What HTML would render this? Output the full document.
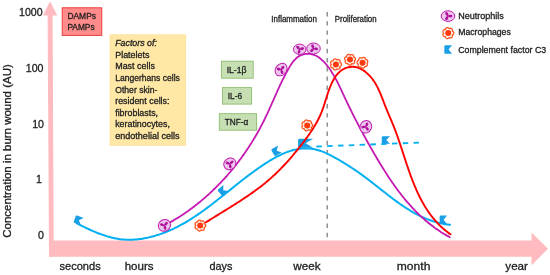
<!DOCTYPE html>
<html><head><meta charset="utf-8"><title>Burn wound healing timeline</title>
<style>html,body{margin:0;padding:0;background:#fff;width:550px;height:275px;overflow:hidden}svg{display:block;filter:blur(0.25px)}</style>
</head><body>
<svg width="550" height="275" viewBox="0 0 550 275">
<rect width="550" height="275" fill="#fff"/>
<path d="M50,1.3 L57.3,15.6 L52.6,15.6 L53.8,256.8 L49,256.8 L47.6,15.6 L43,15.6 Z" fill="#ffbbbf"/>
<path d="M49,240.4 L531.5,240.4 L531.5,232.4 L548,248.8 L531.5,265.3 L531.5,256.8 L49,256.8 Z" fill="#ffbbbf"/>
<line x1="327.2" y1="12" x2="327.2" y2="238.5" stroke="#7f7f7f" stroke-width="1.3" stroke-dasharray="4.4 4.8"/>
<rect x="62.2" y="7.8" width="39.6" height="27.6" fill="#ff8b8b" stroke="#ec3030" stroke-width="0.9"/>
<text x="67.40" y="18.90" textLength="28.60" lengthAdjust="spacingAndGlyphs" style="font-family:'Liberation Sans',Arial,sans-serif;font-size:8.60px;" fill="#222" stroke="#222" stroke-width="0.30" >DAMPs</text>
<text x="67.40" y="30.30" textLength="27.20" lengthAdjust="spacingAndGlyphs" style="font-family:'Liberation Sans',Arial,sans-serif;font-size:8.60px;" fill="#222" stroke="#222" stroke-width="0.30" >PAMPs</text>
<rect x="110" y="34.8" width="75.8" height="110.6" fill="#ffe8a6" stroke="#fbdc8a" stroke-width="0.6"/>
<text x="115.20" y="46.10" textLength="41.70" lengthAdjust="spacingAndGlyphs" style="font-family:'Liberation Sans',Arial,sans-serif;font-size:8.60px;font-style:italic;" fill="#222" stroke="#222" stroke-width="0.30" >Factors of:</text>
<text x="115.20" y="57.70" textLength="34.30" lengthAdjust="spacingAndGlyphs" style="font-family:'Liberation Sans',Arial,sans-serif;font-size:8.60px;" fill="#222" stroke="#222" stroke-width="0.30" >Platelets</text>
<text x="115.20" y="69.30" textLength="39.70" lengthAdjust="spacingAndGlyphs" style="font-family:'Liberation Sans',Arial,sans-serif;font-size:8.60px;" fill="#222" stroke="#222" stroke-width="0.30" >Mast cells</text>
<text x="115.20" y="80.90" textLength="64.70" lengthAdjust="spacingAndGlyphs" style="font-family:'Liberation Sans',Arial,sans-serif;font-size:8.60px;" fill="#222" stroke="#222" stroke-width="0.30" >Langerhans cells</text>
<text x="115.20" y="92.50" textLength="42.20" lengthAdjust="spacingAndGlyphs" style="font-family:'Liberation Sans',Arial,sans-serif;font-size:8.60px;" fill="#222" stroke="#222" stroke-width="0.30" >Other skin-</text>
<text x="115.20" y="104.10" textLength="54.30" lengthAdjust="spacingAndGlyphs" style="font-family:'Liberation Sans',Arial,sans-serif;font-size:8.60px;" fill="#222" stroke="#222" stroke-width="0.30" >resident cells:</text>
<text x="115.20" y="115.70" textLength="42.90" lengthAdjust="spacingAndGlyphs" style="font-family:'Liberation Sans',Arial,sans-serif;font-size:8.60px;" fill="#222" stroke="#222" stroke-width="0.30" >fibroblasts,</text>
<text x="115.20" y="127.30" textLength="54.70" lengthAdjust="spacingAndGlyphs" style="font-family:'Liberation Sans',Arial,sans-serif;font-size:8.60px;" fill="#222" stroke="#222" stroke-width="0.30" >keratinocytes,</text>
<text x="115.20" y="138.90" textLength="64.40" lengthAdjust="spacingAndGlyphs" style="font-family:'Liberation Sans',Arial,sans-serif;font-size:8.60px;" fill="#222" stroke="#222" stroke-width="0.30" >endothelial cells</text>
<rect x="221.4" y="61.2" width="31.8" height="17.0" fill="#c6e0b4" stroke="#8cbd6e" stroke-width="0.9"/>
<text x="226.70" y="73.00" textLength="19.80" lengthAdjust="spacingAndGlyphs" style="font-family:'Liberation Sans',Arial,sans-serif;font-size:8.60px;" fill="#222" stroke="#222" stroke-width="0.30" >IL-1β</text>
<rect x="222.5" y="87.6" width="29.1" height="16.5" fill="#c6e0b4" stroke="#8cbd6e" stroke-width="0.9"/>
<text x="227.80" y="98.80" textLength="14.30" lengthAdjust="spacingAndGlyphs" style="font-family:'Liberation Sans',Arial,sans-serif;font-size:8.60px;" fill="#222" stroke="#222" stroke-width="0.30" >IL-6</text>
<rect x="219.3" y="113.7" width="37.3" height="16.5" fill="#c6e0b4" stroke="#8cbd6e" stroke-width="0.9"/>
<text x="224.70" y="124.90" textLength="23.50" lengthAdjust="spacingAndGlyphs" style="font-family:'Liberation Sans',Arial,sans-serif;font-size:8.60px;" fill="#222" stroke="#222" stroke-width="0.30" >TNF-α</text>
<text x="42.60" y="16.10" text-anchor="end" style="font-family:'Liberation Sans',Arial,sans-serif;font-size:10.60px;" fill="#222" stroke="#222" stroke-width="0.30" >1000</text>
<text x="43.50" y="71.60" text-anchor="end" style="font-family:'Liberation Sans',Arial,sans-serif;font-size:10.60px;" fill="#222" stroke="#222" stroke-width="0.30" >100</text>
<text x="44.00" y="127.80" text-anchor="end" style="font-family:'Liberation Sans',Arial,sans-serif;font-size:10.60px;" fill="#222" stroke="#222" stroke-width="0.30" >10</text>
<text x="41.90" y="183.10" text-anchor="end" style="font-family:'Liberation Sans',Arial,sans-serif;font-size:10.60px;" fill="#222" stroke="#222" stroke-width="0.30" >1</text>
<text x="43.90" y="238.50" text-anchor="end" style="font-family:'Liberation Sans',Arial,sans-serif;font-size:10.60px;" fill="#222" stroke="#222" stroke-width="0.30" >0</text>
<text transform="translate(10.8,151) rotate(-90)" text-anchor="middle" style="font-family:'Liberation Sans',Arial,sans-serif;font-size:10.4px" fill="#222" stroke="#222" stroke-width="0.30" textLength="173.5" lengthAdjust="spacingAndGlyphs">Concentration in burn wound (AU)</text>
<text x="59.50" y="270.40" textLength="41.20" lengthAdjust="spacingAndGlyphs" style="font-family:'Liberation Sans',Arial,sans-serif;font-size:11.30px;" fill="#222" stroke="#222" stroke-width="0.30" >seconds</text>
<text x="124.70" y="270.40" textLength="28.90" lengthAdjust="spacingAndGlyphs" style="font-family:'Liberation Sans',Arial,sans-serif;font-size:11.30px;" fill="#222" stroke="#222" stroke-width="0.30" >hours</text>
<text x="209.40" y="270.40" textLength="23.00" lengthAdjust="spacingAndGlyphs" style="font-family:'Liberation Sans',Arial,sans-serif;font-size:11.30px;" fill="#222" stroke="#222" stroke-width="0.30" >days</text>
<text x="293.30" y="270.40" textLength="27.20" lengthAdjust="spacingAndGlyphs" style="font-family:'Liberation Sans',Arial,sans-serif;font-size:11.30px;" fill="#222" stroke="#222" stroke-width="0.30" >week</text>
<text x="396.80" y="270.40" textLength="33.60" lengthAdjust="spacingAndGlyphs" style="font-family:'Liberation Sans',Arial,sans-serif;font-size:11.30px;" fill="#222" stroke="#222" stroke-width="0.30" >month</text>
<text x="505.30" y="270.40" textLength="22.70" lengthAdjust="spacingAndGlyphs" style="font-family:'Liberation Sans',Arial,sans-serif;font-size:11.30px;" fill="#222" stroke="#222" stroke-width="0.30" >year</text>
<text x="271.30" y="22.30" textLength="45.60" lengthAdjust="spacingAndGlyphs" style="font-family:'Liberation Sans',Arial,sans-serif;font-size:8.40px;" fill="#222" stroke="#222" stroke-width="0.30" >Inflammation</text>
<text x="334.80" y="22.30" textLength="41.80" lengthAdjust="spacingAndGlyphs" style="font-family:'Liberation Sans',Arial,sans-serif;font-size:8.40px;" fill="#222" stroke="#222" stroke-width="0.30" >Proliferation</text>
<g transform="translate(448.00,16.10) rotate(0.0)"><ellipse rx="6.80" ry="5.30" fill="#ecc6ec" stroke="#c21cae" stroke-width="1"/><g transform="rotate(90.0)" fill="#b0109c"><ellipse cx="0" cy="-2.5" rx="1.35" ry="2.0" transform="rotate(0)"/><ellipse cx="0" cy="-2.5" rx="1.35" ry="2.0" transform="rotate(120)"/><ellipse cx="0" cy="-2.5" rx="1.35" ry="2.0" transform="rotate(240)"/><circle r="1"/></g></g>
<g transform="translate(448.20,33.10)"><path d="M5.60,0.00 L5.59,0.17 L5.57,0.33 L5.53,0.50 L5.47,0.66 L5.40,0.81 L5.32,0.97 L5.23,1.11 L5.12,1.25 L5.00,1.38 L4.87,1.50 L4.74,1.62 L4.60,1.72 L4.45,1.82 L4.30,1.91 L4.14,2.00 L4.18,2.17 L4.20,2.34 L4.21,2.52 L4.22,2.70 L4.21,2.87 L4.20,3.05 L4.17,3.22 L4.13,3.39 L4.07,3.56 L4.01,3.72 L3.93,3.87 L3.84,4.01 L3.73,4.15 L3.62,4.27 L3.49,4.38 L3.36,4.48 L3.21,4.56 L3.06,4.63 L2.90,4.69 L2.73,4.73 L2.56,4.76 L2.39,4.78 L2.21,4.78 L2.04,4.77 L1.86,4.75 L1.69,4.71 L1.52,4.67 L1.35,4.61 L1.18,4.55 L1.02,4.48 L0.91,4.62 L0.79,4.74 L0.66,4.86 L0.52,4.98 L0.38,5.09 L0.23,5.18 L0.08,5.27 L-0.08,5.34 L-0.24,5.40 L-0.41,5.45 L-0.58,5.48 L-0.75,5.50 L-0.91,5.50 L-1.08,5.49 L-1.25,5.46 L-1.41,5.41 L-1.56,5.35 L-1.72,5.28 L-1.86,5.19 L-2.00,5.09 L-2.13,4.97 L-2.25,4.85 L-2.36,4.71 L-2.46,4.57 L-2.55,4.42 L-2.63,4.26 L-2.70,4.10 L-2.77,3.93 L-2.82,3.76 L-2.87,3.60 L-3.04,3.59 L-3.22,3.57 L-3.39,3.55 L-3.57,3.51 L-3.74,3.47 L-3.91,3.41 L-4.07,3.35 L-4.23,3.27 L-4.38,3.18 L-4.52,3.08 L-4.65,2.97 L-4.77,2.85 L-4.87,2.72 L-4.97,2.58 L-5.05,2.43 L-5.11,2.28 L-5.16,2.12 L-5.20,1.95 L-5.22,1.78 L-5.22,1.61 L-5.21,1.44 L-5.19,1.27 L-5.15,1.10 L-5.10,0.93 L-5.04,0.76 L-4.97,0.60 L-4.89,0.44 L-4.80,0.29 L-4.70,0.14 L-4.60,0.00 L-4.70,-0.14 L-4.80,-0.29 L-4.89,-0.44 L-4.97,-0.60 L-5.04,-0.76 L-5.10,-0.93 L-5.15,-1.10 L-5.19,-1.27 L-5.21,-1.44 L-5.22,-1.61 L-5.22,-1.78 L-5.20,-1.95 L-5.16,-2.12 L-5.11,-2.28 L-5.05,-2.43 L-4.97,-2.58 L-4.87,-2.72 L-4.77,-2.85 L-4.65,-2.97 L-4.52,-3.08 L-4.38,-3.18 L-4.23,-3.27 L-4.07,-3.35 L-3.91,-3.41 L-3.74,-3.47 L-3.57,-3.51 L-3.39,-3.55 L-3.22,-3.57 L-3.04,-3.59 L-2.87,-3.60 L-2.82,-3.76 L-2.77,-3.93 L-2.70,-4.10 L-2.63,-4.26 L-2.55,-4.42 L-2.46,-4.57 L-2.36,-4.71 L-2.25,-4.85 L-2.13,-4.97 L-2.00,-5.09 L-1.86,-5.19 L-1.72,-5.28 L-1.56,-5.35 L-1.41,-5.41 L-1.25,-5.46 L-1.08,-5.49 L-0.91,-5.50 L-0.75,-5.50 L-0.58,-5.48 L-0.41,-5.45 L-0.24,-5.40 L-0.08,-5.34 L0.08,-5.27 L0.23,-5.18 L0.38,-5.09 L0.52,-4.98 L0.66,-4.86 L0.79,-4.74 L0.91,-4.62 L1.02,-4.48 L1.18,-4.55 L1.35,-4.61 L1.52,-4.67 L1.69,-4.71 L1.86,-4.75 L2.04,-4.77 L2.21,-4.78 L2.39,-4.78 L2.56,-4.76 L2.73,-4.73 L2.90,-4.69 L3.06,-4.63 L3.21,-4.56 L3.36,-4.48 L3.49,-4.38 L3.62,-4.27 L3.73,-4.15 L3.84,-4.01 L3.93,-3.87 L4.01,-3.72 L4.07,-3.56 L4.13,-3.39 L4.17,-3.22 L4.20,-3.05 L4.21,-2.87 L4.22,-2.70 L4.21,-2.52 L4.20,-2.34 L4.18,-2.17 L4.14,-2.00 L4.30,-1.91 L4.45,-1.82 L4.60,-1.72 L4.74,-1.62 L4.87,-1.50 L5.00,-1.38 L5.12,-1.25 L5.23,-1.11 L5.32,-0.97 L5.40,-0.81 L5.47,-0.66 L5.53,-0.50 L5.57,-0.33 L5.59,-0.17Z" fill="#fff6f0" stroke="#ff5420" stroke-width="1.3" stroke-linejoin="round"/><circle cx="0.00" cy="0.00" r="3.00" fill="#ff3a0a"/></g>
<path transform="translate(448.20,49.60) rotate(0.0)" d="M-2.65,-4.25 L3.85,-4.25 L0.38,0 L3.85,4.25 L-2.65,4.25 Q-3.85,4.25 -3.85,3.05 L-3.85,-3.05 Q-3.85,-4.25 -2.65,-4.25 Z" fill="#1a9fe6"/>
<text x="458.20" y="19.40" textLength="45.60" lengthAdjust="spacingAndGlyphs" style="font-family:'Liberation Sans',Arial,sans-serif;font-size:8.80px;" fill="#222" stroke="#222" stroke-width="0.30" >Neutrophils</text>
<text x="458.20" y="35.10" textLength="52.60" lengthAdjust="spacingAndGlyphs" style="font-family:'Liberation Sans',Arial,sans-serif;font-size:8.80px;" fill="#222" stroke="#222" stroke-width="0.30" >Macrophages</text>
<text x="458.20" y="53.00" textLength="88.00" lengthAdjust="spacingAndGlyphs" style="font-family:'Liberation Sans',Arial,sans-serif;font-size:8.80px;" fill="#222" stroke="#222" stroke-width="0.30" >Complement factor C3</text>
<path d="M76.96,223.46 C77.24,223.61 78.10,224.04 78.68,224.33 C79.25,224.62 79.83,224.91 80.42,225.20 C81.00,225.49 81.59,225.78 82.18,226.07 C82.77,226.36 83.36,226.65 83.96,226.94 C84.55,227.23 85.15,227.51 85.76,227.80 C86.36,228.09 86.96,228.37 87.57,228.66 C88.18,228.94 88.79,229.22 89.41,229.50 C90.02,229.78 90.64,230.06 91.26,230.33 C91.88,230.60 92.50,230.88 93.12,231.14 C93.75,231.41 94.37,231.68 95.00,231.94 C95.63,232.20 96.26,232.46 96.90,232.71 C97.53,232.96 98.17,233.21 98.81,233.45 C99.44,233.70 100.08,233.94 100.73,234.17 C101.37,234.41 102.01,234.64 102.66,234.86 C103.30,235.08 103.95,235.30 104.60,235.51 C105.25,235.72 105.90,235.93 106.55,236.13 C107.20,236.33 107.86,236.52 108.51,236.71 C109.17,236.89 109.82,237.07 110.48,237.24 C111.14,237.41 111.80,237.57 112.46,237.73 C113.12,237.88 113.78,238.03 114.44,238.17 C115.11,238.31 115.77,238.44 116.43,238.56 C117.10,238.68 117.76,238.79 118.43,238.89 C119.10,238.99 119.76,239.09 120.43,239.17 C121.10,239.25 121.76,239.33 122.43,239.39 C123.10,239.45 123.77,239.51 124.44,239.55 C125.11,239.60 125.78,239.63 126.45,239.66 C127.12,239.68 127.79,239.70 128.46,239.71 C129.13,239.72 129.80,239.72 130.47,239.71 C131.14,239.70 131.81,239.68 132.48,239.65 C133.15,239.63 133.82,239.59 134.49,239.55 C135.16,239.50 135.83,239.45 136.49,239.39 C137.16,239.33 137.83,239.26 138.50,239.19 C139.17,239.11 139.83,239.03 140.50,238.94 C141.17,238.85 141.83,238.75 142.50,238.64 C143.16,238.54 143.83,238.42 144.49,238.30 C145.15,238.18 145.82,238.05 146.48,237.92 C147.14,237.79 147.80,237.64 148.46,237.50 C149.12,237.35 149.77,237.19 150.43,237.03 C151.09,236.87 151.74,236.70 152.39,236.53 C153.05,236.35 153.70,236.17 154.35,235.99 C155.00,235.80 155.65,235.61 156.30,235.41 C156.94,235.21 157.59,235.01 158.23,234.80 C158.88,234.59 159.52,234.37 160.16,234.15 C160.80,233.93 161.43,233.71 162.07,233.48 C162.70,233.24 163.34,233.01 163.97,232.77 C164.60,232.53 165.23,232.28 165.86,232.03 C166.48,231.78 167.11,231.52 167.73,231.26 C168.35,231.00 168.97,230.74 169.59,230.47 C170.20,230.20 170.82,229.93 171.43,229.65 C172.04,229.38 172.65,229.10 173.25,228.81 C173.86,228.53 174.46,228.24 175.06,227.94 C175.66,227.65 176.26,227.35 176.86,227.05 C177.45,226.75 178.05,226.45 178.64,226.14 C179.23,225.83 179.82,225.52 180.41,225.21 C180.99,224.89 181.58,224.57 182.16,224.25 C182.74,223.93 183.32,223.60 183.90,223.28 C184.48,222.95 185.06,222.62 185.63,222.28 C186.20,221.95 186.78,221.61 187.35,221.27 C187.92,220.92 188.49,220.58 189.05,220.23 C189.62,219.88 190.18,219.53 190.75,219.18 C191.31,218.83 191.87,218.47 192.43,218.11 C192.99,217.75 193.55,217.39 194.11,217.03 C194.66,216.66 195.22,216.30 195.77,215.93 C196.32,215.56 196.88,215.19 197.43,214.81 C197.98,214.44 198.53,214.06 199.08,213.68 C199.62,213.30 200.17,212.92 200.72,212.54 C201.26,212.16 201.80,211.77 202.35,211.38 C202.89,211.00 203.43,210.61 203.97,210.22 C204.51,209.82 205.05,209.43 205.59,209.04 C206.13,208.64 206.67,208.24 207.21,207.84 C207.74,207.45 208.28,207.05 208.81,206.64 C209.35,206.24 209.88,205.84 210.42,205.43 C210.95,205.03 211.48,204.62 212.01,204.21 C212.55,203.81 213.08,203.40 213.61,202.99 C214.14,202.57 214.67,202.16 215.20,201.75 C215.73,201.34 216.26,200.92 216.79,200.51 C217.32,200.09 217.85,199.68 218.37,199.26 C218.90,198.84 219.43,198.42 219.96,198.01 C220.48,197.59 221.01,197.17 221.54,196.75 C222.07,196.33 222.59,195.91 223.12,195.48 C223.65,195.06 224.17,194.64 224.70,194.22 C225.23,193.80 225.75,193.37 226.28,192.95 C226.81,192.53 227.33,192.10 227.86,191.68 C228.39,191.25 228.92,190.83 229.44,190.41 C229.97,189.98 230.50,189.56 231.03,189.13 C231.55,188.71 232.08,188.28 232.61,187.86 C233.14,187.44 233.67,187.01 234.20,186.59 C234.73,186.16 235.26,185.74 235.79,185.32 C236.32,184.89 236.85,184.47 237.38,184.05 C237.92,183.63 238.45,183.20 238.98,182.78 C239.52,182.36 240.05,181.94 240.58,181.52 C241.12,181.10 241.66,180.68 242.19,180.26 C242.73,179.84 243.27,179.42 243.80,179.01 C244.34,178.59 244.88,178.17 245.42,177.76 C245.96,177.34 246.51,176.93 247.05,176.52 C247.59,176.10 248.14,175.69 248.68,175.28 C249.23,174.87 249.77,174.46 250.32,174.05 C250.87,173.65 251.42,173.24 251.97,172.84 C252.52,172.43 253.07,172.03 253.62,171.62 C254.18,171.22 254.73,170.82 255.29,170.42 C255.84,170.02 256.40,169.63 256.96,169.23 C257.52,168.84 258.08,168.44 258.64,168.05 C259.21,167.66 259.77,167.27 260.34,166.88 C260.90,166.50 261.47,166.11 262.04,165.73 C262.61,165.35 263.18,164.96 263.76,164.59 C264.33,164.21 264.91,163.83 265.49,163.46 C266.06,163.08 266.64,162.71 267.22,162.35 C267.81,161.98 268.39,161.62 268.97,161.26 C269.56,160.90 270.14,160.54 270.73,160.19 C271.32,159.84 271.91,159.49 272.50,159.15 C273.09,158.81 273.69,158.47 274.28,158.14 C274.88,157.81 275.47,157.48 276.07,157.16 C276.67,156.84 277.27,156.53 277.87,156.22 C278.47,155.92 279.08,155.61 279.68,155.32 C280.28,155.03 280.89,154.74 281.50,154.46 C282.10,154.18 282.71,153.91 283.32,153.64 C283.93,153.38 284.54,153.12 285.16,152.87 C285.77,152.62 286.38,152.38 287.00,152.15 C287.61,151.92 288.23,151.70 288.85,151.49 C289.46,151.28 290.08,151.07 290.70,150.88 C291.32,150.69 291.94,150.50 292.57,150.33 C293.19,150.16 293.81,149.99 294.44,149.84 C295.06,149.69 295.69,149.55 296.31,149.42 C296.94,149.29 297.57,149.17 298.19,149.07 C298.82,148.96 299.45,148.87 300.08,148.79 C300.71,148.71 301.34,148.64 301.98,148.58 C302.61,148.52 303.24,148.48 303.88,148.45 C304.51,148.42 305.14,148.40 305.78,148.40 C306.41,148.40 307.05,148.41 307.69,148.43 C308.32,148.46 308.96,148.50 309.60,148.55 C310.24,148.61 310.88,148.68 311.52,148.76 C312.16,148.85 312.80,148.95 313.44,149.07 C314.08,149.18 314.72,149.31 315.36,149.46 C316.00,149.61 316.64,149.77 317.29,149.95 C317.93,150.13 318.57,150.32 319.21,150.53 C319.85,150.73 320.50,150.95 321.14,151.18 C321.78,151.41 322.42,151.65 323.06,151.91 C323.70,152.16 324.34,152.43 324.97,152.70 C325.61,152.97 326.25,153.26 326.88,153.55 C327.52,153.84 328.15,154.14 328.78,154.45 C329.41,154.75 330.04,155.07 330.67,155.39 C331.30,155.71 331.92,156.04 332.55,156.37 C333.17,156.70 333.79,157.04 334.41,157.38 C335.02,157.72 335.64,158.06 336.25,158.41 C336.86,158.76 337.47,159.11 338.08,159.46 C338.68,159.81 339.28,160.16 339.88,160.51 C340.48,160.87 341.07,161.22 341.66,161.57 C342.25,161.92 342.84,162.28 343.42,162.63 C344.01,162.98 344.59,163.34 345.16,163.69 C345.74,164.04 346.31,164.40 346.88,164.75 C347.46,165.11 348.02,165.46 348.59,165.82 C349.15,166.18 349.72,166.54 350.28,166.90 C350.84,167.26 351.39,167.62 351.95,167.98 C352.50,168.34 353.06,168.71 353.61,169.07 C354.16,169.44 354.71,169.81 355.26,170.18 C355.81,170.55 356.35,170.92 356.90,171.29 C357.44,171.67 357.99,172.05 358.53,172.42 C359.07,172.80 359.61,173.19 360.15,173.57 C360.69,173.96 361.23,174.34 361.77,174.73 C362.31,175.12 362.85,175.52 363.38,175.91 C363.92,176.31 364.46,176.71 364.99,177.11 C365.53,177.51 366.06,177.91 366.60,178.31 C367.13,178.72 367.67,179.12 368.20,179.53 C368.74,179.94 369.27,180.35 369.80,180.76 C370.33,181.17 370.87,181.58 371.40,181.99 C371.93,182.41 372.46,182.82 373.00,183.24 C373.53,183.65 374.06,184.07 374.59,184.49 C375.12,184.90 375.65,185.32 376.19,185.74 C376.72,186.16 377.25,186.58 377.78,187.00 C378.31,187.42 378.84,187.84 379.38,188.26 C379.91,188.68 380.44,189.10 380.97,189.52 C381.50,189.94 382.04,190.36 382.57,190.78 C383.10,191.20 383.64,191.62 384.17,192.04 C384.71,192.46 385.24,192.88 385.77,193.30 C386.31,193.71 386.85,194.13 387.38,194.55 C387.92,194.96 388.45,195.38 388.99,195.79 C389.53,196.20 390.07,196.62 390.61,197.03 C391.15,197.44 391.69,197.85 392.23,198.25 C392.77,198.66 393.31,199.07 393.85,199.47 C394.40,199.88 394.94,200.28 395.49,200.68 C396.03,201.08 396.58,201.48 397.12,201.87 C397.67,202.27 398.22,202.66 398.77,203.05 C399.32,203.44 399.87,203.83 400.42,204.21 C400.98,204.60 401.53,204.98 402.09,205.36 C402.64,205.74 403.20,206.12 403.76,206.49 C404.32,206.86 404.88,207.23 405.44,207.60 C406.00,207.96 406.56,208.33 407.13,208.68 C407.69,209.04 408.26,209.40 408.83,209.75 C409.40,210.10 409.97,210.45 410.54,210.79 C411.11,211.13 411.69,211.47 412.26,211.81 C412.84,212.14 413.42,212.47 414.00,212.80 C414.58,213.12 415.16,213.44 415.74,213.76 C416.33,214.07 416.92,214.38 417.51,214.69 C418.10,215.00 418.69,215.30 419.28,215.59 C419.87,215.89 420.47,216.18 421.07,216.46 C421.67,216.75 422.27,217.03 422.87,217.30 C423.48,217.57 424.08,217.84 424.69,218.10 C425.30,218.36 425.91,218.62 426.53,218.87 C427.14,219.12 427.76,219.36 428.38,219.60 C429.00,219.83 429.62,220.06 430.25,220.29 C430.87,220.51 431.50,220.73 432.14,220.94 C432.77,221.15 433.40,221.35 434.04,221.55 C434.68,221.74 435.32,221.93 435.96,222.11 C436.61,222.29 437.25,222.47 437.91,222.63 C438.56,222.80 439.21,222.96 439.87,223.11 C440.52,223.26 441.19,223.40 441.85,223.54 C442.51,223.67 443.18,223.80 443.85,223.92 C444.52,224.04 445.20,224.15 445.88,224.25 C446.56,224.35 447.24,224.45 447.92,224.53 C448.61,224.62 449.65,224.72 449.99,224.76" fill="none" stroke="#00b0f0" stroke-width="2" stroke-linecap="round"/>
<line x1="316.4" y1="146.5" x2="420.5" y2="142.6" stroke="#00b0f0" stroke-width="1.8" stroke-dasharray="5.5 5.3"/>
<path d="M170.18,222.34 C170.47,222.17 171.34,221.68 171.91,221.35 C172.49,221.02 173.06,220.68 173.64,220.34 C174.21,220.00 174.78,219.66 175.35,219.32 C175.92,218.97 176.48,218.63 177.05,218.28 C177.62,217.93 178.18,217.57 178.74,217.22 C179.31,216.86 179.87,216.50 180.43,216.14 C180.98,215.78 181.54,215.42 182.10,215.05 C182.65,214.68 183.21,214.31 183.76,213.94 C184.31,213.57 184.87,213.19 185.42,212.81 C185.96,212.44 186.51,212.06 187.06,211.67 C187.60,211.29 188.15,210.90 188.69,210.51 C189.23,210.12 189.77,209.73 190.31,209.34 C190.85,208.94 191.39,208.55 191.93,208.15 C192.46,207.75 193.00,207.35 193.53,206.94 C194.06,206.54 194.59,206.13 195.12,205.72 C195.65,205.31 196.18,204.90 196.70,204.48 C197.23,204.07 197.75,203.65 198.27,203.23 C198.79,202.81 199.31,202.39 199.83,201.96 C200.35,201.54 200.86,201.11 201.38,200.68 C201.89,200.25 202.41,199.82 202.92,199.39 C203.43,198.95 203.94,198.51 204.44,198.07 C204.95,197.64 205.46,197.19 205.96,196.75 C206.46,196.31 206.96,195.86 207.46,195.41 C207.96,194.96 208.46,194.51 208.96,194.06 C209.45,193.60 209.95,193.15 210.44,192.69 C210.93,192.23 211.42,191.77 211.91,191.31 C212.40,190.85 212.89,190.39 213.37,189.92 C213.86,189.45 214.34,188.98 214.82,188.51 C215.30,188.04 215.78,187.57 216.26,187.09 C216.73,186.62 217.21,186.14 217.68,185.66 C218.15,185.18 218.62,184.70 219.09,184.22 C219.56,183.73 220.03,183.25 220.49,182.76 C220.96,182.27 221.42,181.78 221.88,181.29 C222.35,180.80 222.80,180.31 223.26,179.81 C223.72,179.32 224.17,178.82 224.63,178.32 C225.08,177.82 225.53,177.32 225.98,176.81 C226.43,176.31 226.88,175.81 227.32,175.30 C227.77,174.79 228.21,174.28 228.65,173.77 C229.09,173.26 229.53,172.75 229.97,172.23 C230.40,171.72 230.84,171.20 231.27,170.69 C231.70,170.17 232.13,169.65 232.56,169.13 C232.99,168.60 233.42,168.08 233.84,167.56 C234.27,167.03 234.69,166.50 235.11,165.98 C235.53,165.45 235.95,164.92 236.36,164.38 C236.78,163.85 237.19,163.32 237.60,162.78 C238.01,162.25 238.42,161.71 238.83,161.17 C239.24,160.64 239.64,160.10 240.04,159.55 C240.45,159.01 240.85,158.47 241.25,157.93 C241.64,157.38 242.04,156.83 242.43,156.29 C242.83,155.74 243.22,155.19 243.61,154.64 C244.00,154.09 244.39,153.54 244.77,152.98 C245.16,152.43 245.54,151.87 245.92,151.32 C246.30,150.76 246.68,150.20 247.06,149.64 C247.43,149.08 247.81,148.52 248.18,147.96 C248.55,147.40 248.92,146.84 249.28,146.27 C249.65,145.71 250.02,145.14 250.38,144.57 C250.74,144.01 251.10,143.44 251.46,142.87 C251.82,142.30 252.17,141.73 252.53,141.15 C252.88,140.58 253.23,140.01 253.58,139.43 C253.93,138.86 254.27,138.28 254.62,137.71 C254.96,137.13 255.30,136.55 255.64,135.97 C255.98,135.39 256.32,134.81 256.65,134.23 C256.99,133.65 257.32,133.06 257.65,132.48 C257.98,131.90 258.31,131.31 258.63,130.73 C258.96,130.14 259.28,129.55 259.60,128.96 C259.92,128.38 260.24,127.79 260.55,127.20 C260.87,126.61 261.18,126.02 261.49,125.42 C261.80,124.83 262.11,124.24 262.42,123.64 C262.72,123.05 263.02,122.46 263.32,121.86 C263.63,121.26 263.92,120.67 264.22,120.07 C264.51,119.47 264.81,118.87 265.10,118.27 C265.39,117.68 265.68,117.08 265.96,116.47 C266.25,115.87 266.54,115.27 266.82,114.67 C267.10,114.07 267.38,113.46 267.66,112.86 C267.94,112.26 268.22,111.65 268.49,111.05 C268.77,110.44 269.04,109.84 269.32,109.23 C269.59,108.62 269.86,108.02 270.14,107.41 C270.41,106.80 270.68,106.20 270.95,105.59 C271.22,104.98 271.49,104.37 271.76,103.76 C272.03,103.15 272.30,102.54 272.57,101.93 C272.84,101.32 273.10,100.71 273.37,100.10 C273.64,99.49 273.91,98.88 274.18,98.27 C274.45,97.66 274.72,97.05 274.99,96.44 C275.26,95.82 275.53,95.21 275.80,94.60 C276.08,93.99 276.35,93.38 276.62,92.76 C276.90,92.15 277.17,91.54 277.45,90.93 C277.72,90.31 278.00,89.70 278.28,89.09 C278.56,88.48 278.84,87.86 279.12,87.25 C279.41,86.64 279.69,86.03 279.98,85.41 C280.26,84.80 280.55,84.19 280.84,83.58 C281.13,82.96 281.43,82.35 281.72,81.74 C282.02,81.13 282.32,80.52 282.62,79.91 C282.92,79.30 283.23,78.68 283.53,78.07 C283.84,77.46 284.15,76.85 284.46,76.24 C284.78,75.63 285.09,75.02 285.41,74.41 C285.74,73.80 286.06,73.19 286.39,72.59 C286.72,71.98 287.05,71.37 287.38,70.76 C287.72,70.15 288.06,69.55 288.40,68.94 C288.75,68.34 289.10,67.73 289.45,67.14 C289.81,66.54 290.17,65.95 290.54,65.37 C290.91,64.79 291.29,64.21 291.67,63.65 C292.06,63.09 292.46,62.54 292.87,62.01 C293.27,61.48 293.69,60.96 294.12,60.46 C294.55,59.97 294.99,59.49 295.45,59.03 C295.90,58.58 296.37,58.14 296.85,57.73 C297.34,57.33 297.83,56.94 298.35,56.59 C298.86,56.23 299.39,55.91 299.94,55.61 C300.49,55.32 301.05,55.06 301.64,54.83 C302.22,54.61 302.83,54.41 303.44,54.26 C304.06,54.10 304.69,53.98 305.33,53.90 C305.96,53.81 306.61,53.76 307.26,53.75 C307.91,53.73 308.56,53.75 309.21,53.80 C309.85,53.86 310.50,53.95 311.14,54.07 C311.77,54.20 312.40,54.36 313.02,54.55 C313.63,54.74 314.24,54.97 314.83,55.23 C315.43,55.48 316.01,55.77 316.59,56.08 C317.16,56.40 317.73,56.74 318.28,57.10 C318.83,57.47 319.38,57.86 319.91,58.27 C320.45,58.68 320.97,59.11 321.48,59.56 C322.00,60.01 322.50,60.48 322.99,60.97 C323.49,61.45 323.97,61.95 324.45,62.46 C324.92,62.97 325.38,63.49 325.84,64.03 C326.29,64.56 326.74,65.10 327.18,65.65 C327.61,66.20 328.04,66.75 328.45,67.31 C328.87,67.87 329.28,68.43 329.68,68.99 C330.07,69.56 330.46,70.13 330.85,70.70 C331.23,71.27 331.60,71.84 331.97,72.42 C332.33,72.99 332.69,73.57 333.04,74.15 C333.39,74.73 333.74,75.31 334.08,75.90 C334.42,76.48 334.75,77.07 335.08,77.66 C335.40,78.25 335.72,78.84 336.04,79.43 C336.36,80.03 336.67,80.62 336.98,81.22 C337.28,81.81 337.59,82.41 337.89,83.01 C338.19,83.61 338.48,84.21 338.78,84.81 C339.07,85.41 339.36,86.01 339.65,86.62 C339.94,87.22 340.22,87.82 340.51,88.43 C340.79,89.03 341.07,89.64 341.36,90.24 C341.64,90.85 341.92,91.45 342.20,92.06 C342.48,92.66 342.76,93.27 343.04,93.87 C343.32,94.48 343.60,95.08 343.88,95.69 C344.17,96.29 344.45,96.90 344.73,97.50 C345.02,98.11 345.30,98.71 345.59,99.32 C345.87,99.92 346.16,100.52 346.45,101.13 C346.73,101.73 347.02,102.33 347.31,102.93 C347.60,103.54 347.89,104.14 348.18,104.74 C348.47,105.34 348.77,105.94 349.06,106.54 C349.35,107.14 349.65,107.74 349.94,108.35 C350.24,108.95 350.53,109.55 350.83,110.15 C351.12,110.74 351.42,111.34 351.72,111.94 C352.02,112.54 352.32,113.14 352.62,113.74 C352.92,114.34 353.22,114.94 353.52,115.53 C353.82,116.13 354.13,116.73 354.43,117.33 C354.73,117.92 355.04,118.52 355.34,119.12 C355.65,119.71 355.96,120.31 356.26,120.90 C356.57,121.50 356.88,122.10 357.19,122.69 C357.50,123.29 357.81,123.88 358.12,124.47 C358.43,125.07 358.74,125.66 359.05,126.26 C359.37,126.85 359.68,127.44 359.99,128.04 C360.31,128.63 360.62,129.22 360.94,129.81 C361.25,130.41 361.57,131.00 361.89,131.59 C362.21,132.18 362.53,132.77 362.85,133.37 C363.16,133.96 363.48,134.55 363.81,135.14 C364.13,135.73 364.45,136.32 364.77,136.91 C365.09,137.50 365.42,138.09 365.74,138.68 C366.07,139.27 366.39,139.85 366.72,140.44 C367.05,141.03 367.37,141.62 367.70,142.21 C368.03,142.79 368.36,143.38 368.69,143.97 C369.02,144.56 369.35,145.14 369.68,145.73 C370.01,146.32 370.34,146.90 370.67,147.49 C371.01,148.07 371.34,148.66 371.68,149.24 C372.01,149.83 372.35,150.41 372.68,151.00 C373.02,151.58 373.36,152.17 373.69,152.75 C374.03,153.33 374.37,153.92 374.71,154.50 C375.05,155.08 375.39,155.67 375.73,156.25 C376.07,156.83 376.41,157.41 376.76,157.99 C377.10,158.58 377.44,159.16 377.79,159.74 C378.13,160.32 378.48,160.90 378.83,161.47 C379.17,162.05 379.52,162.63 379.87,163.21 C380.22,163.79 380.57,164.36 380.92,164.94 C381.28,165.52 381.63,166.09 381.98,166.67 C382.34,167.24 382.69,167.82 383.05,168.39 C383.41,168.96 383.76,169.53 384.12,170.10 C384.48,170.67 384.84,171.24 385.21,171.81 C385.57,172.38 385.93,172.95 386.30,173.52 C386.66,174.08 387.03,174.65 387.40,175.21 C387.76,175.78 388.13,176.34 388.50,176.90 C388.88,177.47 389.25,178.03 389.62,178.59 C390.00,179.14 390.37,179.70 390.75,180.26 C391.13,180.82 391.51,181.37 391.89,181.93 C392.27,182.48 392.65,183.03 393.04,183.58 C393.42,184.13 393.81,184.68 394.20,185.23 C394.59,185.78 394.98,186.33 395.37,186.87 C395.76,187.41 396.16,187.96 396.55,188.50 C396.95,189.04 397.35,189.58 397.75,190.12 C398.15,190.66 398.55,191.19 398.95,191.73 C399.36,192.26 399.76,192.79 400.17,193.32 C400.58,193.85 400.99,194.38 401.40,194.91 C401.82,195.43 402.23,195.96 402.65,196.48 C403.07,197.00 403.49,197.52 403.91,198.04 C404.33,198.56 404.75,199.08 405.18,199.59 C405.61,200.10 406.04,200.62 406.47,201.12 C406.90,201.63 407.33,202.14 407.77,202.65 C408.21,203.15 408.64,203.65 409.09,204.15 C409.53,204.65 409.97,205.15 410.42,205.65 C410.86,206.14 411.31,206.64 411.76,207.13 C412.22,207.62 412.67,208.10 413.13,208.59 C413.59,209.07 414.05,209.56 414.51,210.04 C414.97,210.52 415.44,210.99 415.90,211.47 C416.37,211.94 416.84,212.42 417.32,212.88 C417.79,213.35 418.27,213.82 418.75,214.28 C419.23,214.75 419.71,215.21 420.20,215.66 C420.68,216.12 421.17,216.58 421.66,217.03 C422.15,217.48 422.65,217.93 423.15,218.37 C423.65,218.82 424.15,219.26 424.65,219.70 C425.15,220.14 425.66,220.58 426.17,221.01 C426.68,221.44 427.20,221.87 427.71,222.30 C428.23,222.73 428.75,223.15 429.28,223.57 C429.80,223.99 430.33,224.41 430.86,224.82 C431.39,225.23 431.92,225.64 432.46,226.05 C433.00,226.46 433.54,226.86 434.08,227.26 C434.63,227.66 435.17,228.05 435.72,228.45 C436.28,228.84 436.83,229.23 437.39,229.61 C437.95,230.00 438.51,230.38 439.08,230.76 C439.64,231.13 440.21,231.51 440.78,231.88 C441.36,232.25 441.94,232.62 442.52,232.98 C443.10,233.34 443.68,233.70 444.27,234.05 C444.86,234.41 445.45,234.76 446.05,235.11 C446.64,235.45 447.24,235.79 447.85,236.13 C448.45,236.47 449.37,236.97 449.67,237.14" fill="none" stroke="#c41ab2" stroke-width="1.8" stroke-linecap="round"/>
<path transform="translate(78.50,220.20) rotate(20.0)" d="M-2.80,-3.90 L4.00,-3.90 L0.40,0 L4.00,3.90 L-2.80,3.90 Q-4.00,3.90 -4.00,2.70 L-4.00,-2.70 Q-4.00,-3.90 -2.80,-3.90 Z" fill="#1a9fe6"/>
<path transform="translate(222.90,190.50) rotate(-40.0)" d="M-2.80,-3.90 L4.00,-3.90 L0.40,0 L4.00,3.90 L-2.80,3.90 Q-4.00,3.90 -4.00,2.70 L-4.00,-2.70 Q-4.00,-3.90 -2.80,-3.90 Z" fill="#1a9fe6"/>
<path transform="translate(276.40,151.00) rotate(-30.0)" d="M-2.80,-3.90 L4.00,-3.90 L0.40,0 L4.00,3.90 L-2.80,3.90 Q-4.00,3.90 -4.00,2.70 L-4.00,-2.70 Q-4.00,-3.90 -2.80,-3.90 Z" fill="#1a9fe6"/>
<path transform="translate(305.60,143.30) rotate(0.0)" d="M-6.30,-4.50 L7.50,-4.50 L0.00,0 L7.50,4.50 L-6.30,4.50 Q-7.50,4.50 -7.50,3.30 L-7.50,-3.30 Q-7.50,-4.50 -6.30,-4.50 Z" fill="#1a9fe6"/>
<path transform="translate(385.90,140.00) rotate(0.0)" d="M-2.95,-3.80 L4.15,-3.80 L0.42,0 L4.15,3.80 L-2.95,3.80 Q-4.15,3.80 -4.15,2.60 L-4.15,-2.60 Q-4.15,-3.80 -2.95,-3.80 Z" fill="#1a9fe6"/>
<path transform="translate(443.30,219.70) rotate(0.0)" d="M-2.45,-4.20 L3.65,-4.20 L0.36,0 L3.65,4.20 L-2.45,4.20 Q-3.65,4.20 -3.65,3.00 L-3.65,-3.00 Q-3.65,-4.20 -2.45,-4.20 Z" fill="#1a9fe6"/>
<path d="M205.66,222.46 C205.94,222.29 206.78,221.76 207.34,221.41 C207.90,221.06 208.46,220.71 209.02,220.35 C209.58,220.00 210.15,219.65 210.71,219.30 C211.27,218.95 211.84,218.60 212.40,218.25 C212.97,217.90 213.54,217.55 214.10,217.20 C214.67,216.85 215.24,216.50 215.80,216.15 C216.37,215.80 216.94,215.45 217.51,215.10 C218.08,214.75 218.65,214.40 219.22,214.05 C219.79,213.70 220.36,213.35 220.93,213.00 C221.50,212.65 222.08,212.29 222.65,211.94 C223.22,211.59 223.79,211.24 224.36,210.89 C224.94,210.53 225.51,210.18 226.08,209.83 C226.65,209.47 227.22,209.12 227.80,208.77 C228.37,208.41 228.94,208.06 229.51,207.70 C230.08,207.35 230.66,206.99 231.23,206.63 C231.80,206.27 232.37,205.92 232.94,205.56 C233.51,205.20 234.08,204.84 234.65,204.48 C235.22,204.12 235.79,203.76 236.36,203.39 C236.93,203.03 237.50,202.67 238.06,202.30 C238.63,201.94 239.20,201.57 239.76,201.21 C240.33,200.84 240.90,200.47 241.46,200.10 C242.02,199.73 242.59,199.36 243.15,198.99 C243.71,198.62 244.27,198.25 244.84,197.87 C245.40,197.50 245.96,197.12 246.51,196.74 C247.07,196.37 247.63,195.99 248.19,195.61 C248.74,195.23 249.30,194.84 249.85,194.46 C250.40,194.08 250.95,193.69 251.50,193.30 C252.05,192.92 252.60,192.53 253.15,192.14 C253.70,191.75 254.24,191.35 254.79,190.96 C255.33,190.56 255.87,190.17 256.42,189.77 C256.96,189.37 257.50,188.97 258.03,188.57 C258.57,188.17 259.10,187.76 259.64,187.35 C260.17,186.95 260.70,186.54 261.23,186.13 C261.76,185.72 262.29,185.30 262.81,184.89 C263.34,184.47 263.86,184.06 264.38,183.64 C264.90,183.22 265.42,182.79 265.94,182.37 C266.45,181.94 266.96,181.52 267.48,181.09 C267.99,180.66 268.50,180.22 269.00,179.79 C269.51,179.35 270.01,178.92 270.51,178.48 C271.01,178.03 271.51,177.59 272.01,177.15 C272.50,176.70 272.99,176.25 273.48,175.80 C273.97,175.35 274.46,174.89 274.95,174.44 C275.43,173.98 275.92,173.52 276.40,173.06 C276.88,172.60 277.35,172.14 277.83,171.67 C278.30,171.20 278.78,170.74 279.25,170.26 C279.72,169.79 280.19,169.32 280.65,168.84 C281.12,168.37 281.58,167.89 282.04,167.41 C282.51,166.93 282.96,166.45 283.42,165.96 C283.88,165.48 284.33,164.99 284.79,164.50 C285.24,164.02 285.69,163.52 286.14,163.03 C286.59,162.54 287.04,162.04 287.48,161.55 C287.93,161.05 288.37,160.55 288.81,160.05 C289.25,159.55 289.69,159.05 290.13,158.55 C290.57,158.04 291.01,157.54 291.44,157.03 C291.88,156.52 292.31,156.01 292.74,155.50 C293.17,154.99 293.60,154.48 294.03,153.96 C294.46,153.45 294.88,152.94 295.31,152.42 C295.73,151.90 296.16,151.38 296.58,150.86 C297.00,150.34 297.42,149.82 297.84,149.30 C298.26,148.78 298.68,148.25 299.09,147.73 C299.51,147.20 299.92,146.67 300.34,146.15 C300.75,145.62 301.16,145.09 301.58,144.56 C301.99,144.03 302.40,143.50 302.81,142.97 C303.22,142.43 303.62,141.90 304.03,141.36 C304.44,140.83 304.84,140.29 305.24,139.75 C305.64,139.22 306.04,138.68 306.44,138.13 C306.84,137.59 307.23,137.05 307.63,136.51 C308.02,135.96 308.41,135.42 308.79,134.87 C309.18,134.32 309.56,133.77 309.94,133.22 C310.32,132.66 310.70,132.11 311.07,131.55 C311.44,131.00 311.81,130.44 312.17,129.88 C312.54,129.32 312.90,128.76 313.25,128.19 C313.61,127.63 313.96,127.06 314.31,126.49 C314.65,125.92 315.00,125.35 315.33,124.77 C315.67,124.20 316.00,123.62 316.32,123.04 C316.65,122.46 316.97,121.87 317.28,121.29 C317.60,120.70 317.91,120.11 318.21,119.52 C318.51,118.93 318.81,118.33 319.10,117.73 C319.39,117.13 319.67,116.53 319.95,115.93 C320.22,115.32 320.49,114.72 320.75,114.10 C321.01,113.49 321.27,112.88 321.52,112.26 C321.76,111.64 322.00,111.02 322.24,110.40 C322.47,109.77 322.70,109.14 322.92,108.51 C323.14,107.88 323.36,107.25 323.57,106.61 C323.79,105.98 324.00,105.34 324.21,104.70 C324.41,104.06 324.62,103.42 324.82,102.77 C325.02,102.13 325.23,101.49 325.43,100.84 C325.63,100.19 325.83,99.55 326.03,98.90 C326.24,98.25 326.44,97.60 326.64,96.95 C326.85,96.30 327.06,95.65 327.27,95.00 C327.48,94.36 327.69,93.71 327.91,93.06 C328.13,92.41 328.35,91.76 328.58,91.11 C328.81,90.46 329.04,89.81 329.28,89.17 C329.52,88.52 329.77,87.87 330.03,87.23 C330.28,86.59 330.54,85.94 330.82,85.30 C331.09,84.66 331.37,84.02 331.66,83.39 C331.96,82.75 332.26,82.12 332.57,81.50 C332.89,80.88 333.21,80.26 333.55,79.66 C333.89,79.06 334.23,78.46 334.60,77.88 C334.96,77.30 335.34,76.74 335.73,76.19 C336.12,75.64 336.53,75.10 336.95,74.59 C337.37,74.07 337.81,73.58 338.26,73.10 C338.72,72.63 339.19,72.18 339.67,71.75 C340.16,71.32 340.67,70.92 341.18,70.54 C341.70,70.17 342.24,69.82 342.78,69.49 C343.32,69.17 343.88,68.87 344.45,68.60 C345.01,68.33 345.59,68.08 346.17,67.87 C346.76,67.66 347.35,67.47 347.95,67.32 C348.54,67.17 349.15,67.04 349.75,66.95 C350.36,66.86 350.97,66.80 351.58,66.77 C352.20,66.74 352.81,66.75 353.42,66.79 C354.04,66.83 354.65,66.90 355.26,67.01 C355.87,67.12 356.48,67.27 357.08,67.44 C357.69,67.61 358.29,67.82 358.88,68.06 C359.48,68.29 360.07,68.56 360.65,68.85 C361.24,69.14 361.82,69.46 362.39,69.80 C362.96,70.14 363.52,70.51 364.08,70.90 C364.63,71.28 365.18,71.70 365.71,72.12 C366.25,72.55 366.78,73.00 367.29,73.46 C367.81,73.92 368.31,74.41 368.80,74.90 C369.30,75.39 369.78,75.90 370.24,76.42 C370.71,76.94 371.16,77.47 371.60,78.01 C372.03,78.55 372.46,79.10 372.86,79.65 C373.27,80.21 373.67,80.77 374.05,81.34 C374.43,81.91 374.80,82.49 375.16,83.08 C375.52,83.66 375.87,84.25 376.20,84.85 C376.54,85.45 376.87,86.05 377.18,86.66 C377.50,87.27 377.81,87.88 378.11,88.50 C378.41,89.11 378.70,89.73 378.98,90.36 C379.27,90.98 379.55,91.61 379.82,92.24 C380.09,92.87 380.36,93.50 380.62,94.14 C380.88,94.77 381.14,95.41 381.39,96.04 C381.64,96.68 381.89,97.32 382.14,97.96 C382.39,98.59 382.63,99.23 382.88,99.87 C383.12,100.51 383.36,101.14 383.61,101.78 C383.85,102.41 384.09,103.05 384.33,103.68 C384.58,104.31 384.82,104.94 385.07,105.56 C385.31,106.19 385.56,106.81 385.81,107.43 C386.06,108.06 386.31,108.67 386.57,109.29 C386.82,109.90 387.07,110.52 387.33,111.13 C387.59,111.74 387.84,112.35 388.10,112.96 C388.36,113.57 388.61,114.17 388.87,114.78 C389.13,115.39 389.39,115.99 389.64,116.60 C389.90,117.20 390.16,117.81 390.42,118.41 C390.67,119.02 390.93,119.62 391.18,120.23 C391.44,120.83 391.69,121.44 391.95,122.04 C392.20,122.65 392.45,123.26 392.70,123.87 C392.95,124.48 393.19,125.09 393.44,125.70 C393.68,126.31 393.93,126.92 394.17,127.54 C394.41,128.15 394.65,128.77 394.88,129.39 C395.12,130.01 395.35,130.63 395.58,131.25 C395.82,131.88 396.05,132.50 396.28,133.13 C396.50,133.75 396.73,134.38 396.96,135.01 C397.18,135.64 397.40,136.27 397.63,136.90 C397.85,137.53 398.07,138.16 398.29,138.79 C398.51,139.43 398.73,140.06 398.94,140.70 C399.16,141.33 399.38,141.97 399.59,142.61 C399.81,143.25 400.02,143.89 400.23,144.52 C400.45,145.16 400.66,145.80 400.87,146.44 C401.08,147.09 401.30,147.73 401.51,148.37 C401.72,149.01 401.93,149.65 402.14,150.30 C402.35,150.94 402.56,151.58 402.77,152.23 C402.98,152.87 403.19,153.51 403.40,154.16 C403.61,154.80 403.82,155.45 404.03,156.09 C404.24,156.74 404.45,157.38 404.66,158.03 C404.87,158.67 405.08,159.32 405.29,159.96 C405.51,160.61 405.72,161.25 405.93,161.89 C406.14,162.54 406.36,163.18 406.57,163.83 C406.79,164.47 407.00,165.11 407.22,165.75 C407.44,166.40 407.65,167.04 407.87,167.68 C408.09,168.32 408.31,168.96 408.53,169.60 C408.76,170.24 408.98,170.88 409.20,171.52 C409.43,172.16 409.65,172.80 409.88,173.44 C410.11,174.07 410.34,174.71 410.57,175.34 C410.80,175.98 411.03,176.61 411.27,177.25 C411.50,177.88 411.74,178.51 411.98,179.14 C412.22,179.77 412.46,180.40 412.71,181.03 C412.95,181.65 413.20,182.28 413.45,182.90 C413.69,183.53 413.95,184.15 414.20,184.77 C414.45,185.39 414.71,186.01 414.97,186.63 C415.23,187.25 415.49,187.87 415.76,188.48 C416.02,189.10 416.29,189.71 416.56,190.32 C416.84,190.93 417.11,191.54 417.39,192.14 C417.67,192.75 417.95,193.35 418.24,193.96 C418.52,194.56 418.81,195.16 419.10,195.76 C419.39,196.35 419.69,196.95 419.99,197.54 C420.29,198.13 420.59,198.72 420.90,199.31 C421.21,199.90 421.52,200.48 421.84,201.07 C422.16,201.65 422.48,202.23 422.80,202.81 C423.12,203.38 423.45,203.96 423.79,204.53 C424.12,205.10 424.46,205.67 424.80,206.23 C425.14,206.80 425.49,207.36 425.84,207.92 C426.20,208.48 426.55,209.03 426.92,209.59 C427.28,210.14 427.64,210.69 428.02,211.24 C428.39,211.78 428.77,212.32 429.15,212.86 C429.53,213.40 429.92,213.94 430.31,214.47 C430.71,215.00 431.11,215.53 431.51,216.05 C431.92,216.58 432.33,217.10 432.74,217.62 C433.16,218.13 433.58,218.65 434.01,219.16 C434.44,219.67 434.87,220.17 435.31,220.67 C435.75,221.17 436.20,221.67 436.65,222.16 C437.11,222.66 437.56,223.15 438.03,223.63 C438.50,224.11 438.97,224.60 439.45,225.07 C439.93,225.55 440.41,226.02 440.90,226.48 C441.40,226.95 441.89,227.41 442.40,227.87 C442.91,228.33 443.42,228.78 443.94,229.23 C444.46,229.68 444.99,230.12 445.52,230.56 C446.06,231.00 446.60,231.43 447.15,231.86 C447.70,232.29 448.25,232.71 448.82,233.13 C449.38,233.55 450.25,234.16 450.54,234.37" fill="none" stroke="#ff0000" stroke-width="1.9" stroke-linecap="round"/>
<g transform="translate(164.40,225.40) rotate(-35.0)"><ellipse rx="6.30" ry="5.70" fill="#ecc6ec" stroke="#c21cae" stroke-width="1"/><g transform="rotate(80.0)" fill="#b0109c"><ellipse cx="0" cy="-2.5" rx="1.35" ry="2.0" transform="rotate(0)"/><ellipse cx="0" cy="-2.5" rx="1.35" ry="2.0" transform="rotate(120)"/><ellipse cx="0" cy="-2.5" rx="1.35" ry="2.0" transform="rotate(240)"/><circle r="1"/></g></g>
<g transform="translate(229.80,163.90) rotate(-35.0)"><ellipse rx="6.30" ry="5.60" fill="#ecc6ec" stroke="#c21cae" stroke-width="1"/><g transform="rotate(85.0)" fill="#b0109c"><ellipse cx="0" cy="-2.5" rx="1.35" ry="2.0" transform="rotate(0)"/><ellipse cx="0" cy="-2.5" rx="1.35" ry="2.0" transform="rotate(120)"/><ellipse cx="0" cy="-2.5" rx="1.35" ry="2.0" transform="rotate(240)"/><circle r="1"/></g></g>
<g transform="translate(281.10,69.60) rotate(-50.0)"><ellipse rx="6.80" ry="5.40" fill="#ecc6ec" stroke="#c21cae" stroke-width="1"/><g transform="rotate(90.0)" fill="#b0109c"><ellipse cx="0" cy="-2.5" rx="1.35" ry="2.0" transform="rotate(0)"/><ellipse cx="0" cy="-2.5" rx="1.35" ry="2.0" transform="rotate(120)"/><ellipse cx="0" cy="-2.5" rx="1.35" ry="2.0" transform="rotate(240)"/><circle r="1"/></g></g>
<g transform="translate(299.70,49.30) rotate(0.0)"><ellipse rx="6.30" ry="5.20" fill="#ecc6ec" stroke="#c21cae" stroke-width="1"/><g transform="rotate(75.0)" fill="#b0109c"><ellipse cx="0" cy="-2.5" rx="1.35" ry="2.0" transform="rotate(0)"/><ellipse cx="0" cy="-2.5" rx="1.35" ry="2.0" transform="rotate(120)"/><ellipse cx="0" cy="-2.5" rx="1.35" ry="2.0" transform="rotate(240)"/><circle r="1"/></g></g>
<g transform="translate(313.50,48.50) rotate(0.0)"><ellipse rx="6.80" ry="5.50" fill="#ecc6ec" stroke="#c21cae" stroke-width="1"/><g transform="rotate(100.0)" fill="#b0109c"><ellipse cx="0" cy="-2.5" rx="1.35" ry="2.0" transform="rotate(0)"/><ellipse cx="0" cy="-2.5" rx="1.35" ry="2.0" transform="rotate(120)"/><ellipse cx="0" cy="-2.5" rx="1.35" ry="2.0" transform="rotate(240)"/><circle r="1"/></g></g>
<g transform="translate(365.80,126.80) rotate(-65.0)"><ellipse rx="6.40" ry="5.70" fill="#ecc6ec" stroke="#c21cae" stroke-width="1"/><g transform="rotate(90.0)" fill="#b0109c"><ellipse cx="0" cy="-2.5" rx="1.35" ry="2.0" transform="rotate(0)"/><ellipse cx="0" cy="-2.5" rx="1.35" ry="2.0" transform="rotate(120)"/><ellipse cx="0" cy="-2.5" rx="1.35" ry="2.0" transform="rotate(240)"/><circle r="1"/></g></g>
<g transform="translate(200.20,225.60)"><path d="M5.50,0.00 L5.49,0.16 L5.47,0.33 L5.43,0.49 L5.37,0.65 L5.31,0.80 L5.22,0.95 L5.13,1.09 L5.02,1.23 L4.90,1.35 L4.78,1.47 L4.64,1.59 L4.50,1.69 L4.36,1.79 L4.21,1.87 L4.05,1.95 L4.09,2.12 L4.11,2.29 L4.13,2.47 L4.14,2.64 L4.13,2.82 L4.12,2.99 L4.09,3.16 L4.05,3.33 L4.00,3.49 L3.93,3.65 L3.86,3.80 L3.77,3.94 L3.67,4.07 L3.55,4.19 L3.43,4.30 L3.30,4.40 L3.15,4.48 L3.00,4.55 L2.85,4.61 L2.68,4.65 L2.52,4.68 L2.35,4.69 L2.17,4.69 L2.00,4.68 L1.83,4.65 L1.66,4.62 L1.49,4.57 L1.32,4.52 L1.16,4.46 L1.00,4.39 L0.89,4.52 L0.77,4.64 L0.65,4.77 L0.51,4.88 L0.37,4.99 L0.23,5.08 L0.08,5.17 L-0.08,5.24 L-0.24,5.30 L-0.40,5.35 L-0.57,5.38 L-0.73,5.40 L-0.90,5.40 L-1.06,5.39 L-1.22,5.36 L-1.38,5.32 L-1.54,5.26 L-1.68,5.18 L-1.83,5.10 L-1.96,5.00 L-2.09,4.88 L-2.20,4.76 L-2.31,4.62 L-2.41,4.48 L-2.50,4.33 L-2.58,4.17 L-2.65,4.01 L-2.71,3.85 L-2.76,3.68 L-2.81,3.52 L-2.98,3.51 L-3.15,3.50 L-3.32,3.48 L-3.50,3.44 L-3.67,3.40 L-3.83,3.35 L-3.99,3.28 L-4.15,3.21 L-4.30,3.12 L-4.43,3.02 L-4.56,2.91 L-4.68,2.80 L-4.78,2.67 L-4.88,2.53 L-4.96,2.39 L-5.02,2.23 L-5.07,2.08 L-5.10,1.92 L-5.12,1.75 L-5.13,1.58 L-5.12,1.41 L-5.09,1.24 L-5.06,1.07 L-5.01,0.91 L-4.94,0.75 L-4.87,0.59 L-4.79,0.43 L-4.70,0.28 L-4.60,0.14 L-4.50,0.00 L-4.60,-0.14 L-4.70,-0.28 L-4.79,-0.43 L-4.87,-0.59 L-4.94,-0.75 L-5.01,-0.91 L-5.06,-1.07 L-5.09,-1.24 L-5.12,-1.41 L-5.13,-1.58 L-5.12,-1.75 L-5.10,-1.92 L-5.07,-2.08 L-5.02,-2.23 L-4.96,-2.39 L-4.88,-2.53 L-4.78,-2.67 L-4.68,-2.80 L-4.56,-2.91 L-4.43,-3.02 L-4.30,-3.12 L-4.15,-3.21 L-3.99,-3.28 L-3.83,-3.35 L-3.67,-3.40 L-3.50,-3.44 L-3.32,-3.48 L-3.15,-3.50 L-2.98,-3.51 L-2.81,-3.52 L-2.76,-3.68 L-2.71,-3.85 L-2.65,-4.01 L-2.58,-4.17 L-2.50,-4.33 L-2.41,-4.48 L-2.31,-4.62 L-2.20,-4.76 L-2.09,-4.88 L-1.96,-5.00 L-1.83,-5.10 L-1.68,-5.18 L-1.54,-5.26 L-1.38,-5.32 L-1.22,-5.36 L-1.06,-5.39 L-0.90,-5.40 L-0.73,-5.40 L-0.57,-5.38 L-0.40,-5.35 L-0.24,-5.30 L-0.08,-5.24 L0.08,-5.17 L0.23,-5.08 L0.37,-4.99 L0.51,-4.88 L0.65,-4.77 L0.77,-4.64 L0.89,-4.52 L1.00,-4.39 L1.16,-4.46 L1.32,-4.52 L1.49,-4.57 L1.66,-4.62 L1.83,-4.65 L2.00,-4.68 L2.17,-4.69 L2.35,-4.69 L2.52,-4.68 L2.68,-4.65 L2.85,-4.61 L3.00,-4.55 L3.15,-4.48 L3.30,-4.40 L3.43,-4.30 L3.55,-4.19 L3.67,-4.07 L3.77,-3.94 L3.86,-3.80 L3.93,-3.65 L4.00,-3.49 L4.05,-3.33 L4.09,-3.16 L4.12,-2.99 L4.13,-2.82 L4.14,-2.64 L4.13,-2.47 L4.11,-2.29 L4.09,-2.12 L4.05,-1.95 L4.21,-1.87 L4.36,-1.79 L4.50,-1.69 L4.64,-1.59 L4.78,-1.47 L4.90,-1.35 L5.02,-1.23 L5.13,-1.09 L5.22,-0.95 L5.31,-0.80 L5.37,-0.65 L5.43,-0.49 L5.47,-0.33 L5.49,-0.16Z" fill="#fff6f0" stroke="#ff5420" stroke-width="1.3" stroke-linejoin="round"/><circle cx="0.00" cy="0.00" r="3.00" fill="#ff3a0a"/></g>
<g transform="translate(307.20,125.40)"><path d="M5.50,0.00 L5.49,0.16 L5.47,0.33 L5.43,0.49 L5.37,0.65 L5.31,0.80 L5.22,0.95 L5.13,1.09 L5.02,1.23 L4.90,1.35 L4.78,1.47 L4.64,1.59 L4.50,1.69 L4.36,1.79 L4.21,1.87 L4.05,1.95 L4.09,2.12 L4.11,2.29 L4.13,2.47 L4.14,2.64 L4.13,2.82 L4.12,2.99 L4.09,3.16 L4.05,3.33 L4.00,3.49 L3.93,3.65 L3.86,3.80 L3.77,3.94 L3.67,4.07 L3.55,4.19 L3.43,4.30 L3.30,4.40 L3.15,4.48 L3.00,4.55 L2.85,4.61 L2.68,4.65 L2.52,4.68 L2.35,4.69 L2.17,4.69 L2.00,4.68 L1.83,4.65 L1.66,4.62 L1.49,4.57 L1.32,4.52 L1.16,4.46 L1.00,4.39 L0.89,4.52 L0.77,4.64 L0.65,4.77 L0.51,4.88 L0.37,4.99 L0.23,5.08 L0.08,5.17 L-0.08,5.24 L-0.24,5.30 L-0.40,5.35 L-0.57,5.38 L-0.73,5.40 L-0.90,5.40 L-1.06,5.39 L-1.22,5.36 L-1.38,5.32 L-1.54,5.26 L-1.68,5.18 L-1.83,5.10 L-1.96,5.00 L-2.09,4.88 L-2.20,4.76 L-2.31,4.62 L-2.41,4.48 L-2.50,4.33 L-2.58,4.17 L-2.65,4.01 L-2.71,3.85 L-2.76,3.68 L-2.81,3.52 L-2.98,3.51 L-3.15,3.50 L-3.32,3.48 L-3.50,3.44 L-3.67,3.40 L-3.83,3.35 L-3.99,3.28 L-4.15,3.21 L-4.30,3.12 L-4.43,3.02 L-4.56,2.91 L-4.68,2.80 L-4.78,2.67 L-4.88,2.53 L-4.96,2.39 L-5.02,2.23 L-5.07,2.08 L-5.10,1.92 L-5.12,1.75 L-5.13,1.58 L-5.12,1.41 L-5.09,1.24 L-5.06,1.07 L-5.01,0.91 L-4.94,0.75 L-4.87,0.59 L-4.79,0.43 L-4.70,0.28 L-4.60,0.14 L-4.50,0.00 L-4.60,-0.14 L-4.70,-0.28 L-4.79,-0.43 L-4.87,-0.59 L-4.94,-0.75 L-5.01,-0.91 L-5.06,-1.07 L-5.09,-1.24 L-5.12,-1.41 L-5.13,-1.58 L-5.12,-1.75 L-5.10,-1.92 L-5.07,-2.08 L-5.02,-2.23 L-4.96,-2.39 L-4.88,-2.53 L-4.78,-2.67 L-4.68,-2.80 L-4.56,-2.91 L-4.43,-3.02 L-4.30,-3.12 L-4.15,-3.21 L-3.99,-3.28 L-3.83,-3.35 L-3.67,-3.40 L-3.50,-3.44 L-3.32,-3.48 L-3.15,-3.50 L-2.98,-3.51 L-2.81,-3.52 L-2.76,-3.68 L-2.71,-3.85 L-2.65,-4.01 L-2.58,-4.17 L-2.50,-4.33 L-2.41,-4.48 L-2.31,-4.62 L-2.20,-4.76 L-2.09,-4.88 L-1.96,-5.00 L-1.83,-5.10 L-1.68,-5.18 L-1.54,-5.26 L-1.38,-5.32 L-1.22,-5.36 L-1.06,-5.39 L-0.90,-5.40 L-0.73,-5.40 L-0.57,-5.38 L-0.40,-5.35 L-0.24,-5.30 L-0.08,-5.24 L0.08,-5.17 L0.23,-5.08 L0.37,-4.99 L0.51,-4.88 L0.65,-4.77 L0.77,-4.64 L0.89,-4.52 L1.00,-4.39 L1.16,-4.46 L1.32,-4.52 L1.49,-4.57 L1.66,-4.62 L1.83,-4.65 L2.00,-4.68 L2.17,-4.69 L2.35,-4.69 L2.52,-4.68 L2.68,-4.65 L2.85,-4.61 L3.00,-4.55 L3.15,-4.48 L3.30,-4.40 L3.43,-4.30 L3.55,-4.19 L3.67,-4.07 L3.77,-3.94 L3.86,-3.80 L3.93,-3.65 L4.00,-3.49 L4.05,-3.33 L4.09,-3.16 L4.12,-2.99 L4.13,-2.82 L4.14,-2.64 L4.13,-2.47 L4.11,-2.29 L4.09,-2.12 L4.05,-1.95 L4.21,-1.87 L4.36,-1.79 L4.50,-1.69 L4.64,-1.59 L4.78,-1.47 L4.90,-1.35 L5.02,-1.23 L5.13,-1.09 L5.22,-0.95 L5.31,-0.80 L5.37,-0.65 L5.43,-0.49 L5.47,-0.33 L5.49,-0.16Z" fill="#fff6f0" stroke="#ff5420" stroke-width="1.3" stroke-linejoin="round"/><circle cx="0.00" cy="0.00" r="3.00" fill="#ff3a0a"/></g>
<g transform="translate(335.90,64.40)"><path d="M5.60,0.00 L5.59,0.17 L5.57,0.33 L5.53,0.50 L5.47,0.66 L5.40,0.81 L5.32,0.97 L5.23,1.11 L5.12,1.25 L5.00,1.38 L4.87,1.50 L4.74,1.62 L4.60,1.72 L4.45,1.82 L4.30,1.91 L4.14,2.00 L4.18,2.17 L4.20,2.34 L4.21,2.52 L4.22,2.70 L4.21,2.87 L4.20,3.05 L4.17,3.22 L4.13,3.39 L4.07,3.56 L4.01,3.72 L3.93,3.87 L3.84,4.01 L3.73,4.15 L3.62,4.27 L3.49,4.38 L3.36,4.48 L3.21,4.56 L3.06,4.63 L2.90,4.69 L2.73,4.73 L2.56,4.76 L2.39,4.78 L2.21,4.78 L2.04,4.77 L1.86,4.75 L1.69,4.71 L1.52,4.67 L1.35,4.61 L1.18,4.55 L1.02,4.48 L0.91,4.62 L0.79,4.74 L0.66,4.86 L0.52,4.98 L0.38,5.09 L0.23,5.18 L0.08,5.27 L-0.08,5.34 L-0.24,5.40 L-0.41,5.45 L-0.58,5.48 L-0.75,5.50 L-0.91,5.50 L-1.08,5.49 L-1.25,5.46 L-1.41,5.41 L-1.56,5.35 L-1.72,5.28 L-1.86,5.19 L-2.00,5.09 L-2.13,4.97 L-2.25,4.85 L-2.36,4.71 L-2.46,4.57 L-2.55,4.42 L-2.63,4.26 L-2.70,4.10 L-2.77,3.93 L-2.82,3.76 L-2.87,3.60 L-3.04,3.59 L-3.22,3.57 L-3.39,3.55 L-3.57,3.51 L-3.74,3.47 L-3.91,3.41 L-4.07,3.35 L-4.23,3.27 L-4.38,3.18 L-4.52,3.08 L-4.65,2.97 L-4.77,2.85 L-4.87,2.72 L-4.97,2.58 L-5.05,2.43 L-5.11,2.28 L-5.16,2.12 L-5.20,1.95 L-5.22,1.78 L-5.22,1.61 L-5.21,1.44 L-5.19,1.27 L-5.15,1.10 L-5.10,0.93 L-5.04,0.76 L-4.97,0.60 L-4.89,0.44 L-4.80,0.29 L-4.70,0.14 L-4.60,0.00 L-4.70,-0.14 L-4.80,-0.29 L-4.89,-0.44 L-4.97,-0.60 L-5.04,-0.76 L-5.10,-0.93 L-5.15,-1.10 L-5.19,-1.27 L-5.21,-1.44 L-5.22,-1.61 L-5.22,-1.78 L-5.20,-1.95 L-5.16,-2.12 L-5.11,-2.28 L-5.05,-2.43 L-4.97,-2.58 L-4.87,-2.72 L-4.77,-2.85 L-4.65,-2.97 L-4.52,-3.08 L-4.38,-3.18 L-4.23,-3.27 L-4.07,-3.35 L-3.91,-3.41 L-3.74,-3.47 L-3.57,-3.51 L-3.39,-3.55 L-3.22,-3.57 L-3.04,-3.59 L-2.87,-3.60 L-2.82,-3.76 L-2.77,-3.93 L-2.70,-4.10 L-2.63,-4.26 L-2.55,-4.42 L-2.46,-4.57 L-2.36,-4.71 L-2.25,-4.85 L-2.13,-4.97 L-2.00,-5.09 L-1.86,-5.19 L-1.72,-5.28 L-1.56,-5.35 L-1.41,-5.41 L-1.25,-5.46 L-1.08,-5.49 L-0.91,-5.50 L-0.75,-5.50 L-0.58,-5.48 L-0.41,-5.45 L-0.24,-5.40 L-0.08,-5.34 L0.08,-5.27 L0.23,-5.18 L0.38,-5.09 L0.52,-4.98 L0.66,-4.86 L0.79,-4.74 L0.91,-4.62 L1.02,-4.48 L1.18,-4.55 L1.35,-4.61 L1.52,-4.67 L1.69,-4.71 L1.86,-4.75 L2.04,-4.77 L2.21,-4.78 L2.39,-4.78 L2.56,-4.76 L2.73,-4.73 L2.90,-4.69 L3.06,-4.63 L3.21,-4.56 L3.36,-4.48 L3.49,-4.38 L3.62,-4.27 L3.73,-4.15 L3.84,-4.01 L3.93,-3.87 L4.01,-3.72 L4.07,-3.56 L4.13,-3.39 L4.17,-3.22 L4.20,-3.05 L4.21,-2.87 L4.22,-2.70 L4.21,-2.52 L4.20,-2.34 L4.18,-2.17 L4.14,-2.00 L4.30,-1.91 L4.45,-1.82 L4.60,-1.72 L4.74,-1.62 L4.87,-1.50 L5.00,-1.38 L5.12,-1.25 L5.23,-1.11 L5.32,-0.97 L5.40,-0.81 L5.47,-0.66 L5.53,-0.50 L5.57,-0.33 L5.59,-0.17Z" fill="#fff6f0" stroke="#ff5420" stroke-width="1.3" stroke-linejoin="round"/><circle cx="0.00" cy="0.00" r="3.00" fill="#ff3a0a"/></g>
<g transform="translate(350.00,59.60)"><path d="M5.32,0.00 L5.25,0.16 L5.17,0.31 L5.08,0.46 L4.98,0.60 L4.87,0.73 L4.75,0.86 L4.62,0.98 L4.49,1.10 L4.35,1.20 L4.38,1.35 L4.44,1.52 L4.49,1.68 L4.53,1.85 L4.55,2.03 L4.57,2.20 L4.58,2.38 L4.57,2.55 L4.55,2.72 L4.51,2.88 L4.47,3.05 L4.41,3.20 L4.33,3.35 L4.24,3.49 L4.14,3.62 L4.03,3.74 L3.90,3.85 L3.77,3.94 L3.63,4.03 L3.48,4.10 L3.32,4.16 L3.15,4.20 L2.98,4.24 L2.81,4.26 L2.64,4.27 L2.46,4.26 L2.29,4.25 L2.11,4.23 L1.94,4.19 L1.78,4.15 L1.68,4.27 L1.58,4.42 L1.48,4.56 L1.37,4.69 L1.25,4.82 L1.13,4.95 L1.00,5.06 L0.86,5.16 L0.71,5.25 L0.56,5.33 L0.40,5.39 L0.24,5.44 L0.08,5.47 L-0.08,5.49 L-0.25,5.49 L-0.41,5.48 L-0.57,5.45 L-0.73,5.41 L-0.89,5.35 L-1.04,5.27 L-1.18,5.19 L-1.32,5.09 L-1.45,4.97 L-1.58,4.85 L-1.69,4.72 L-1.80,4.58 L-1.90,4.44 L-1.99,4.29 L-2.07,4.13 L-2.14,3.98 L-2.29,3.97 L-2.47,3.99 L-2.64,4.00 L-2.82,4.00 L-2.99,3.99 L-3.16,3.97 L-3.33,3.93 L-3.50,3.89 L-3.66,3.83 L-3.82,3.76 L-3.96,3.68 L-4.10,3.58 L-4.23,3.48 L-4.34,3.36 L-4.45,3.23 L-4.54,3.10 L-4.62,2.95 L-4.68,2.80 L-4.73,2.64 L-4.77,2.48 L-4.79,2.31 L-4.80,2.14 L-4.79,1.97 L-4.78,1.79 L-4.75,1.62 L-4.70,1.45 L-4.65,1.28 L-4.59,1.12 L-4.52,0.96 L-4.44,0.81 L-4.54,0.68 L-4.66,0.56 L-4.77,0.43 L-4.88,0.29 L-4.98,0.15 L-5.07,0.00 L-5.15,-0.15 L-5.22,-0.31 L-5.28,-0.47 L-5.32,-0.64 L-5.35,-0.81 L-5.36,-0.97 L-5.35,-1.14 L-5.34,-1.30 L-5.30,-1.46 L-5.25,-1.62 L-5.19,-1.77 L-5.11,-1.92 L-5.02,-2.06 L-4.91,-2.19 L-4.79,-2.31 L-4.66,-2.42 L-4.53,-2.52 L-4.38,-2.62 L-4.23,-2.70 L-4.07,-2.77 L-3.90,-2.84 L-3.74,-2.89 L-3.57,-2.94 L-3.40,-2.97 L-3.36,-3.12 L-3.34,-3.29 L-3.31,-3.46 L-3.27,-3.63 L-3.22,-3.80 L-3.16,-3.97 L-3.09,-4.13 L-3.01,-4.28 L-2.92,-4.42 L-2.82,-4.56 L-2.70,-4.68 L-2.58,-4.80 L-2.45,-4.90 L-2.31,-4.98 L-2.16,-5.06 L-2.01,-5.12 L-1.85,-5.16 L-1.69,-5.19 L-1.52,-5.20 L-1.35,-5.20 L-1.18,-5.19 L-1.02,-5.16 L-0.85,-5.11 L-0.68,-5.06 L-0.52,-4.99 L-0.37,-4.91 L-0.22,-4.82 L-0.07,-4.72 L0.07,-4.62 L0.20,-4.51 L0.34,-4.57 L0.49,-4.67 L0.64,-4.75 L0.80,-4.82 L0.96,-4.89 L1.13,-4.95 L1.30,-4.99 L1.47,-5.02 L1.64,-5.04 L1.81,-5.04 L1.98,-5.03 L2.14,-5.01 L2.30,-4.97 L2.46,-4.91 L2.61,-4.84 L2.75,-4.76 L2.88,-4.66 L3.01,-4.55 L3.12,-4.43 L3.22,-4.30 L3.32,-4.16 L3.40,-4.01 L3.47,-3.85 L3.53,-3.69 L3.57,-3.52 L3.61,-3.35 L3.63,-3.17 L3.65,-3.00 L3.66,-2.83 L3.65,-2.66 L3.79,-2.58 L3.95,-2.53 L4.11,-2.46 L4.27,-2.38 L4.42,-2.30 L4.57,-2.20 L4.71,-2.10 L4.84,-1.98 L4.96,-1.86 L5.07,-1.73 L5.17,-1.59 L5.25,-1.45 L5.32,-1.30 L5.37,-1.14 L5.41,-0.98 L5.43,-0.82 L5.44,-0.65 L5.43,-0.49 L5.41,-0.32 L5.37,-0.16Z" fill="#fff6f0" stroke="#ff5420" stroke-width="1.3" stroke-linejoin="round"/><circle cx="0.00" cy="0.00" r="3.00" fill="#ff3a0a"/></g>
<g transform="translate(362.50,62.70)"><path d="M4.84,0.00 L4.74,0.14 L4.63,0.28 L4.52,0.41 L4.54,0.55 L4.62,0.70 L4.70,0.85 L4.77,1.01 L4.83,1.18 L4.88,1.35 L4.91,1.52 L4.94,1.69 L4.95,1.86 L4.95,2.03 L4.93,2.20 L4.90,2.36 L4.86,2.52 L4.80,2.67 L4.72,2.82 L4.63,2.96 L4.53,3.09 L4.42,3.21 L4.29,3.32 L4.16,3.42 L4.01,3.51 L3.86,3.58 L3.70,3.65 L3.54,3.70 L3.37,3.74 L3.19,3.77 L3.02,3.79 L2.84,3.79 L2.67,3.79 L2.50,3.78 L2.40,3.89 L2.34,4.05 L2.26,4.21 L2.18,4.36 L2.09,4.51 L1.99,4.65 L1.88,4.79 L1.76,4.91 L1.63,5.03 L1.50,5.13 L1.36,5.23 L1.21,5.30 L1.06,5.37 L0.90,5.42 L0.74,5.45 L0.57,5.47 L0.41,5.47 L0.25,5.46 L0.08,5.43 L-0.08,5.38 L-0.24,5.32 L-0.39,5.25 L-0.54,5.17 L-0.69,5.07 L-0.82,4.96 L-0.95,4.85 L-1.08,4.72 L-1.19,4.59 L-1.30,4.45 L-1.40,4.31 L-1.54,4.30 L-1.71,4.35 L-1.88,4.39 L-2.05,4.42 L-2.22,4.44 L-2.40,4.46 L-2.57,4.45 L-2.74,4.44 L-2.91,4.41 L-3.08,4.37 L-3.24,4.32 L-3.39,4.25 L-3.54,4.17 L-3.67,4.08 L-3.80,3.97 L-3.92,3.86 L-4.02,3.73 L-4.11,3.59 L-4.19,3.45 L-4.26,3.29 L-4.31,3.13 L-4.35,2.97 L-4.38,2.80 L-4.39,2.62 L-4.39,2.45 L-4.38,2.27 L-4.36,2.10 L-4.33,1.93 L-4.29,1.76 L-4.25,1.59 L-4.32,1.48 L-4.47,1.38 L-4.60,1.27 L-4.74,1.16 L-4.86,1.03 L-4.98,0.90 L-5.09,0.77 L-5.18,0.62 L-5.27,0.47 L-5.34,0.32 L-5.40,0.16 L-5.44,0.00 L-5.47,-0.16 L-5.48,-0.33 L-5.48,-0.49 L-5.46,-0.66 L-5.42,-0.82 L-5.37,-0.98 L-5.31,-1.13 L-5.23,-1.28 L-5.14,-1.42 L-5.03,-1.55 L-4.92,-1.68 L-4.79,-1.80 L-4.65,-1.91 L-4.51,-2.01 L-4.36,-2.10 L-4.21,-2.18 L-4.05,-2.26 L-3.89,-2.33 L-3.85,-2.46 L-3.86,-2.63 L-3.86,-2.81 L-3.86,-2.98 L-3.84,-3.16 L-3.81,-3.33 L-3.77,-3.50 L-3.72,-3.66 L-3.65,-3.82 L-3.58,-3.97 L-3.49,-4.12 L-3.39,-4.25 L-3.28,-4.38 L-3.16,-4.49 L-3.03,-4.59 L-2.89,-4.68 L-2.74,-4.75 L-2.59,-4.81 L-2.43,-4.85 L-2.26,-4.88 L-2.09,-4.90 L-1.92,-4.90 L-1.75,-4.89 L-1.58,-4.87 L-1.41,-4.83 L-1.24,-4.78 L-1.08,-4.72 L-0.92,-4.65 L-0.76,-4.58 L-0.61,-4.49 L-0.48,-4.54 L-0.35,-4.66 L-0.21,-4.77 L-0.07,-4.87 L0.07,-4.97 L0.23,-5.05 L0.38,-5.13 L0.55,-5.19 L0.71,-5.24 L0.88,-5.28 L1.04,-5.30 L1.21,-5.30 L1.38,-5.29 L1.54,-5.27 L1.70,-5.23 L1.85,-5.18 L2.00,-5.11 L2.15,-5.02 L2.28,-4.92 L2.41,-4.81 L2.53,-4.69 L2.63,-4.56 L2.73,-4.42 L2.82,-4.27 L2.90,-4.11 L2.96,-3.95 L3.02,-3.79 L3.07,-3.62 L3.10,-3.45 L3.13,-3.28 L3.26,-3.21 L3.43,-3.18 L3.60,-3.14 L3.77,-3.10 L3.93,-3.04 L4.09,-2.97 L4.25,-2.90 L4.40,-2.81 L4.54,-2.71 L4.67,-2.60 L4.79,-2.49 L4.90,-2.36 L5.00,-2.22 L5.08,-2.08 L5.15,-1.93 L5.20,-1.78 L5.24,-1.62 L5.26,-1.45 L5.27,-1.29 L5.27,-1.12 L5.24,-0.95 L5.21,-0.78 L5.16,-0.62 L5.10,-0.46 L5.02,-0.30 L4.94,-0.15Z" fill="#fff6f0" stroke="#ff5420" stroke-width="1.3" stroke-linejoin="round"/><circle cx="0.00" cy="0.00" r="3.00" fill="#ff3a0a"/></g>
</svg>
</body></html>
